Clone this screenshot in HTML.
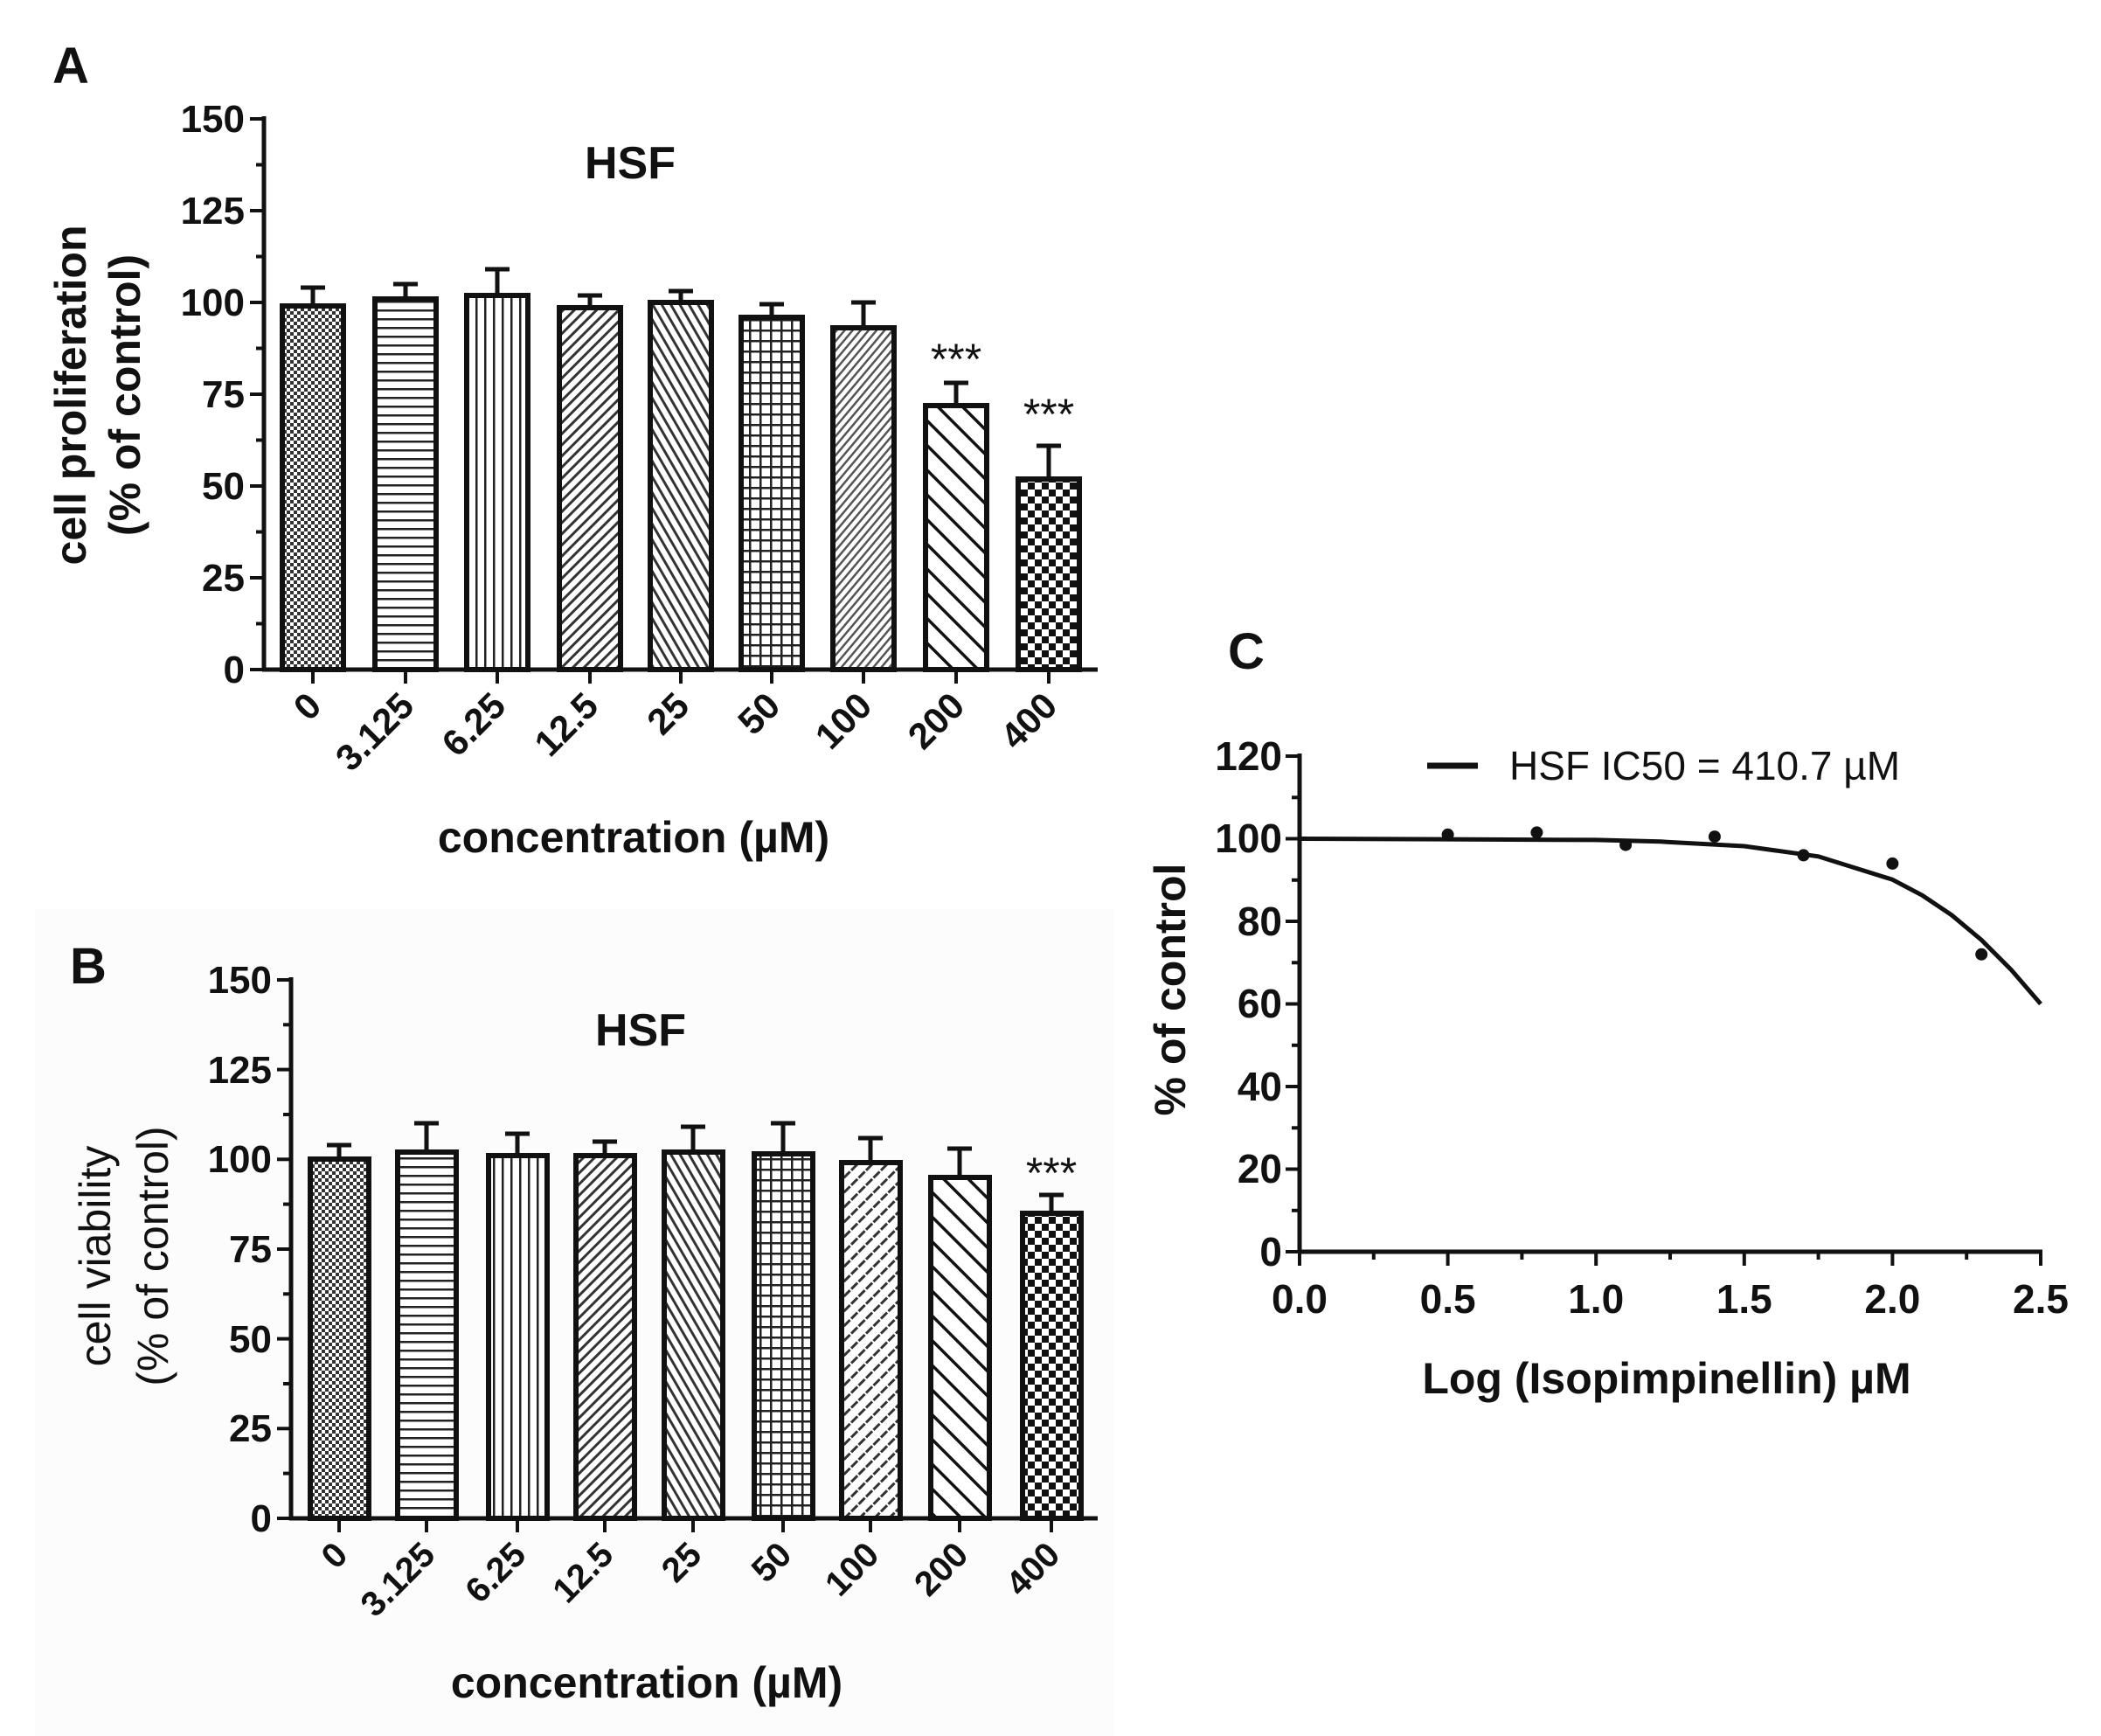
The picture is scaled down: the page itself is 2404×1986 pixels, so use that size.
<!DOCTYPE html>
<html><head><meta charset="utf-8"><style>
html,body{margin:0;padding:0;background:#fff}
svg{display:block}
text{font-family:"Liberation Sans",Arial,sans-serif;fill:#111}
</style></head><body>
<svg width="2404" height="1986" viewBox="0 0 2404 1986" xmlns="http://www.w3.org/2000/svg">
<defs>
<pattern id="p0" width="8" height="8" patternUnits="userSpaceOnUse"><rect width="8" height="8" fill="#fff"/><rect width="4" height="4" fill="#333"/><rect x="4" y="4" width="4" height="4" fill="#333"/></pattern>
<pattern id="p1" width="10" height="10" patternUnits="userSpaceOnUse"><rect width="10" height="10" fill="#fff"/><rect y="4" width="10" height="2.5" fill="#222"/></pattern>
<pattern id="p2" width="10" height="10" patternUnits="userSpaceOnUse"><rect width="10" height="10" fill="#fff"/><rect x="4" width="2.5" height="10" fill="#222"/></pattern>
<pattern id="p3" width="9" height="9" patternUnits="userSpaceOnUse" patternTransform="rotate(45)"><rect width="9" height="9" fill="#fff"/><rect x="3" width="3" height="9" fill="#333"/></pattern>
<pattern id="p4" width="9" height="9" patternUnits="userSpaceOnUse" patternTransform="rotate(-30)"><rect width="9" height="9" fill="#fff"/><rect x="3" width="3" height="9" fill="#333"/></pattern>
<pattern id="p5" width="12" height="12" patternUnits="userSpaceOnUse"><rect width="12" height="12" fill="#fff"/><rect x="5" width="2.5" height="12" fill="#222"/><rect y="5" width="12" height="2.5" fill="#222"/></pattern>
<pattern id="p6" width="7" height="7" patternUnits="userSpaceOnUse" patternTransform="rotate(40)"><rect width="7" height="7" fill="#fff"/><rect x="2" width="2.5" height="7" fill="#555"/></pattern>
<pattern id="p7" width="20" height="20" patternUnits="userSpaceOnUse" patternTransform="rotate(-45)"><rect width="20" height="20" fill="#fff"/><rect x="8" width="3.5" height="20" fill="#111"/></pattern>
<pattern id="p8" width="16" height="16" patternUnits="userSpaceOnUse"><rect width="16" height="16" fill="#fff"/><rect width="8" height="8" fill="#111"/><rect x="8" y="8" width="8" height="8" fill="#111"/></pattern>
<pattern id="p6b" width="12" height="12" patternUnits="userSpaceOnUse" patternTransform="rotate(45)"><rect width="12" height="12" fill="#fff"/><rect x="2" width="3" height="12" fill="#333"/><rect y="6" width="12" height="2" fill="#fff"/></pattern>
</defs>

<!-- Panel A -->
<text x="60" y="95" font-size="58" font-weight="bold">A</text>
<text x="721" y="204" font-size="52" font-weight="bold" text-anchor="middle">HSF</text>
<g stroke="#111" stroke-width="5" fill="none">
<line x1="302" y1="133" x2="302" y2="768"/>
<line x1="300" y1="766" x2="1256" y2="766"/>
</g>
<g stroke="#111" stroke-width="4">
<line x1="286" y1="766" x2="302" y2="766"/><line x1="286" y1="661" x2="302" y2="661"/><line x1="286" y1="556" x2="302" y2="556"/><line x1="286" y1="451" x2="302" y2="451"/><line x1="286" y1="346" x2="302" y2="346"/><line x1="286" y1="241" x2="302" y2="241"/><line x1="286" y1="136" x2="302" y2="136"/>
<line x1="293" y1="713.5" x2="302" y2="713.5"/><line x1="293" y1="608.5" x2="302" y2="608.5"/><line x1="293" y1="503.5" x2="302" y2="503.5"/><line x1="293" y1="398.5" x2="302" y2="398.5"/><line x1="293" y1="293.5" x2="302" y2="293.5"/><line x1="293" y1="188.5" x2="302" y2="188.5"/>
<line x1="358" y1="766" x2="358" y2="782"/><line x1="464" y1="766" x2="464" y2="782"/><line x1="569" y1="766" x2="569" y2="782"/><line x1="675" y1="766" x2="675" y2="782"/><line x1="779" y1="766" x2="779" y2="782"/><line x1="883" y1="766" x2="883" y2="782"/><line x1="988" y1="766" x2="988" y2="782"/><line x1="1094" y1="766" x2="1094" y2="782"/><line x1="1200" y1="766" x2="1200" y2="782"/>
</g>
<g font-size="44" font-weight="bold" text-anchor="end">
<text x="280" y="781">0</text><text x="280" y="676">25</text><text x="280" y="571">50</text><text x="280" y="466">75</text><text x="280" y="361">100</text><text x="280" y="256">125</text><text x="280" y="151">150</text>
</g>
<g stroke="#111" stroke-width="5">
<line x1="358" y1="350" x2="358" y2="329"/><line x1="344" y1="329" x2="372" y2="329"/>
<line x1="464" y1="342" x2="464" y2="325"/><line x1="450" y1="325" x2="478" y2="325"/>
<line x1="569" y1="338" x2="569" y2="308"/><line x1="555" y1="308" x2="583" y2="308"/>
<line x1="675" y1="352" x2="675" y2="338"/><line x1="661" y1="338" x2="689" y2="338"/>
<line x1="779" y1="346" x2="779" y2="333"/><line x1="765" y1="333" x2="793" y2="333"/>
<line x1="883" y1="363" x2="883" y2="348"/><line x1="869" y1="348" x2="897" y2="348"/>
<line x1="988" y1="375" x2="988" y2="346"/><line x1="974" y1="346" x2="1002" y2="346"/>
<line x1="1094" y1="464" x2="1094" y2="438"/><line x1="1080" y1="438" x2="1108" y2="438"/>
<line x1="1200" y1="548" x2="1200" y2="510"/><line x1="1186" y1="510" x2="1214" y2="510"/>
</g>
<g stroke="#111" stroke-width="6">
<rect x="323" y="350" width="70" height="416" fill="url(#p0)"/>
<rect x="429" y="342" width="70" height="424" fill="url(#p1)"/>
<rect x="534" y="338" width="70" height="428" fill="url(#p2)"/>
<rect x="640" y="352" width="70" height="414" fill="url(#p3)"/>
<rect x="744" y="346" width="70" height="420" fill="url(#p4)"/>
<rect x="848" y="363" width="70" height="403" fill="url(#p5)"/>
<rect x="953" y="375" width="70" height="391" fill="url(#p6)"/>
<rect x="1059" y="464" width="70" height="302" fill="url(#p7)"/>
<rect x="1165" y="548" width="70" height="218" fill="url(#p8)"/>
</g>
<text x="1094" y="428" font-size="50" text-anchor="middle">***</text>
<text x="1200" y="491" font-size="50" text-anchor="middle">***</text>
<g font-size="42" font-weight="bold" text-anchor="end">
<text transform="translate(370,810) rotate(-45)">0</text>
<text transform="translate(476,810) rotate(-45)">3.125</text>
<text transform="translate(581,810) rotate(-45)">6.25</text>
<text transform="translate(687,810) rotate(-45)">12.5</text>
<text transform="translate(791,810) rotate(-45)">25</text>
<text transform="translate(895,810) rotate(-45)">50</text>
<text transform="translate(1000,810) rotate(-45)">100</text>
<text transform="translate(1106,810) rotate(-45)">200</text>
<text transform="translate(1212,810) rotate(-45)">400</text>
</g>
<text x="725" y="975" font-size="50" font-weight="bold" text-anchor="middle">concentration (µM)</text>
<text transform="translate(98,452) rotate(-90)" font-size="50" font-weight="bold" text-anchor="middle">cell proliferation</text>
<text transform="translate(160,452) rotate(-90)" font-size="50" font-weight="bold" text-anchor="middle">(% of control)</text>

<!-- Panel B -->
<rect x="40" y="1040" width="1235" height="946" fill="#fcfcfc"/>
<text x="80" y="1125" font-size="58" font-weight="bold">B</text>
<text x="733" y="1196" font-size="52" font-weight="bold" text-anchor="middle">HSF</text>
<g stroke="#111" stroke-width="5" fill="none">
<line x1="333" y1="1118" x2="333" y2="1739"/>
<line x1="331" y1="1737" x2="1256" y2="1737"/>
</g>
<g stroke="#111" stroke-width="4">
<line x1="317" y1="1737" x2="333" y2="1737"/><line x1="317" y1="1634.3" x2="333" y2="1634.3"/><line x1="317" y1="1531.6" x2="333" y2="1531.6"/><line x1="317" y1="1429" x2="333" y2="1429"/><line x1="317" y1="1326.3" x2="333" y2="1326.3"/><line x1="317" y1="1223.6" x2="333" y2="1223.6"/><line x1="317" y1="1121" x2="333" y2="1121"/>
<line x1="324" y1="1685.6" x2="333" y2="1685.6"/><line x1="324" y1="1583" x2="333" y2="1583"/><line x1="324" y1="1480.3" x2="333" y2="1480.3"/><line x1="324" y1="1377.6" x2="333" y2="1377.6"/><line x1="324" y1="1275" x2="333" y2="1275"/><line x1="324" y1="1172.3" x2="333" y2="1172.3"/>
<line x1="388" y1="1737" x2="388" y2="1753"/><line x1="488" y1="1737" x2="488" y2="1753"/><line x1="592" y1="1737" x2="592" y2="1753"/><line x1="692" y1="1737" x2="692" y2="1753"/><line x1="793" y1="1737" x2="793" y2="1753"/><line x1="896" y1="1737" x2="896" y2="1753"/><line x1="996" y1="1737" x2="996" y2="1753"/><line x1="1098" y1="1737" x2="1098" y2="1753"/><line x1="1203" y1="1737" x2="1203" y2="1753"/>
</g>
<g font-size="44" font-weight="bold" text-anchor="end">
<text x="311" y="1752">0</text><text x="311" y="1649">25</text><text x="311" y="1547">50</text><text x="311" y="1444">75</text><text x="311" y="1341">100</text><text x="311" y="1239">125</text><text x="311" y="1136">150</text>
</g>
<g stroke="#111" stroke-width="5">
<line x1="388" y1="1326" x2="388" y2="1310"/><line x1="374" y1="1310" x2="402" y2="1310"/>
<line x1="488" y1="1318" x2="488" y2="1285"/><line x1="474" y1="1285" x2="502" y2="1285"/>
<line x1="592" y1="1322" x2="592" y2="1297"/><line x1="578" y1="1297" x2="606" y2="1297"/>
<line x1="692" y1="1322" x2="692" y2="1306"/><line x1="678" y1="1306" x2="706" y2="1306"/>
<line x1="793" y1="1318" x2="793" y2="1289"/><line x1="779" y1="1289" x2="807" y2="1289"/>
<line x1="896" y1="1320" x2="896" y2="1285"/><line x1="882" y1="1285" x2="910" y2="1285"/>
<line x1="996" y1="1330" x2="996" y2="1302"/><line x1="982" y1="1302" x2="1010" y2="1302"/>
<line x1="1098" y1="1347" x2="1098" y2="1314"/><line x1="1084" y1="1314" x2="1112" y2="1314"/>
<line x1="1203" y1="1388" x2="1203" y2="1367"/><line x1="1189" y1="1367" x2="1217" y2="1367"/>
</g>
<g stroke="#111" stroke-width="6">
<rect x="355" y="1326" width="67" height="411" fill="url(#p0)"/>
<rect x="455" y="1318" width="67" height="419" fill="url(#p1)"/>
<rect x="559" y="1322" width="67" height="415" fill="url(#p2)"/>
<rect x="659" y="1322" width="67" height="415" fill="url(#p3)"/>
<rect x="760" y="1318" width="67" height="419" fill="url(#p4)"/>
<rect x="863" y="1320" width="67" height="417" fill="url(#p5)"/>
<rect x="963" y="1330" width="67" height="407" fill="url(#p6b)"/>
<rect x="1065" y="1347" width="67" height="390" fill="url(#p7)"/>
<rect x="1170" y="1388" width="67" height="349" fill="url(#p8)"/>
</g>
<text x="1203" y="1359" font-size="50" text-anchor="middle">***</text>
<g font-size="40" text-anchor="end" font-weight="bold">
<text transform="translate(400,1781) rotate(-45)">0</text>
<text transform="translate(500,1781) rotate(-45)">3.125</text>
<text transform="translate(604,1781) rotate(-45)">6.25</text>
<text transform="translate(704,1781) rotate(-45)">12.5</text>
<text transform="translate(805,1781) rotate(-45)">25</text>
<text transform="translate(908,1781) rotate(-45)">50</text>
<text transform="translate(1008,1781) rotate(-45)">100</text>
<text transform="translate(1110,1781) rotate(-45)">200</text>
<text transform="translate(1215,1781) rotate(-45)">400</text>
</g>
<text x="740" y="1942" font-size="50" font-weight="bold" text-anchor="middle">concentration (µM)</text>
<text transform="translate(126,1437) rotate(-90)" font-size="50" text-anchor="middle">cell viability</text>
<text transform="translate(192,1437) rotate(-90)" font-size="50" text-anchor="middle">(% of control)</text>

<!-- Panel C -->
<text x="1405" y="765" font-size="58" font-weight="bold">C</text>
<g stroke="#111" stroke-width="5" fill="none">
<line x1="1487" y1="862" x2="1487" y2="1434"/>
<line x1="1485" y1="1432" x2="2337" y2="1432"/>
</g>
<g stroke="#111" stroke-width="4">
<line x1="1471" y1="1432" x2="1487" y2="1432"/><line x1="1471" y1="1337.5" x2="1487" y2="1337.5"/><line x1="1471" y1="1243" x2="1487" y2="1243"/><line x1="1471" y1="1148.5" x2="1487" y2="1148.5"/><line x1="1471" y1="1054" x2="1487" y2="1054"/><line x1="1471" y1="959.5" x2="1487" y2="959.5"/><line x1="1471" y1="865" x2="1487" y2="865"/>
<line x1="1478" y1="1384.8" x2="1487" y2="1384.8"/><line x1="1478" y1="1290.3" x2="1487" y2="1290.3"/><line x1="1478" y1="1195.8" x2="1487" y2="1195.8"/><line x1="1478" y1="1101.3" x2="1487" y2="1101.3"/><line x1="1478" y1="1006.8" x2="1487" y2="1006.8"/><line x1="1478" y1="912.3" x2="1487" y2="912.3"/>
<line x1="1487" y1="1432" x2="1487" y2="1448"/><line x1="1656.6" y1="1432" x2="1656.6" y2="1448"/><line x1="1826.2" y1="1432" x2="1826.2" y2="1448"/><line x1="1995.8" y1="1432" x2="1995.8" y2="1448"/><line x1="2165.4" y1="1432" x2="2165.4" y2="1448"/><line x1="2335" y1="1432" x2="2335" y2="1448"/>
<line x1="1571.8" y1="1432" x2="1571.8" y2="1441"/><line x1="1741.4" y1="1432" x2="1741.4" y2="1441"/><line x1="1911" y1="1432" x2="1911" y2="1441"/><line x1="2080.6" y1="1432" x2="2080.6" y2="1441"/><line x1="2250.2" y1="1432" x2="2250.2" y2="1441"/>
</g>
<g font-size="46" font-weight="bold" text-anchor="end">
<text x="1467" y="1448">0</text><text x="1467" y="1353">20</text><text x="1467" y="1259">40</text><text x="1467" y="1164">60</text><text x="1467" y="1070">80</text><text x="1467" y="975">100</text><text x="1467" y="881">120</text>
</g>
<g font-size="46" font-weight="bold" text-anchor="middle">
<text x="1487" y="1502">0.0</text><text x="1656.6" y="1502">0.5</text><text x="1826.2" y="1502">1.0</text><text x="1995.8" y="1502">1.5</text><text x="2165.4" y="1502">2.0</text><text x="2335" y="1502">2.5</text>
</g>
<text x="1907" y="1594" font-size="50" font-weight="bold" text-anchor="middle">Log (Isopimpinellin) µM</text>
<text transform="translate(1356,1132) rotate(-90)" font-size="50" font-weight="bold" text-anchor="middle">% of control</text>
<line x1="1633" y1="876" x2="1691" y2="876" stroke="#111" stroke-width="7"/>
<text x="1727" y="892" font-size="46">HSF IC50 = 410.7 µM</text>
<path d="M1487,959.5 L1826.2,960.9 L1900,962.8 L1995.8,968 L2080.6,979.8 L2165.4,1006.3 L2199.3,1024.2 L2233.2,1046.9 L2267.2,1075.3 L2301.1,1109.3 L2335,1148.5" fill="none" stroke="#111" stroke-width="5"/>
<g fill="#111">
<circle cx="1656.6" cy="954.8" r="7"/><circle cx="1758.4" cy="952.4" r="7"/><circle cx="1860.1" cy="966.6" r="7"/><circle cx="1961.9" cy="957.1" r="7"/><circle cx="2063.6" cy="978.4" r="7"/><circle cx="2165.4" cy="987.9" r="7"/><circle cx="2267.2" cy="1091.8" r="7"/>
</g>
</svg>
</body></html>
